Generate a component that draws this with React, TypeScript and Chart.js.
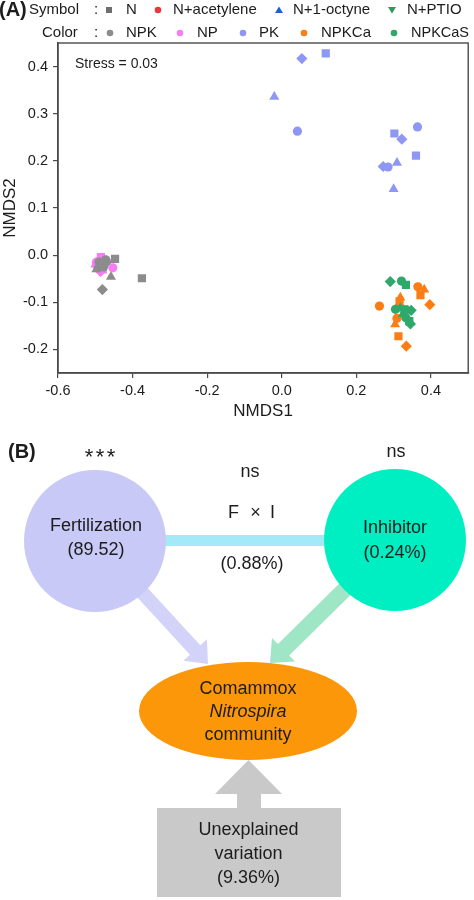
import React, { useEffect, useRef } from "react";
import { Chart, registerables } from "chart.js";

Chart.register(...registerables);

const FONT = 'Arial, "Liberation Sans", Helvetica, sans-serif';
const TEXT = "#1c1c1c";
const AXIS = "#4a4a4a";

// Inhibitor treatments (marker shape) and fertilization regimes (marker colour)
const INHIBITORS = ["N", "N+acetylene", "N+1-octyne", "N+PTIO"];
const INHIBITOR_SHAPES = ["rect", "circle", "triangle", "rectRot"];
const INHIBITOR_RADII = [5.8, 4.6, 5.8, 5.6];
const INHIBITOR_LEGEND_COLORS = ["#6e6e6e", "#e8383d", "#1f5fd6", "#2b9a5a"];
const FERTILIZERS = ["NPK", "NP", "PK", "NPKCa", "NPKCaS"];
const FERTILIZER_COLORS = ["#8c8c8c", "#f57ef2", "#8e97f3", "#fb7d14", "#2ea86b"];

// NMDS scores [NMDS1, NMDS2]; three replicates per inhibitor, in INHIBITORS order
const NPK_SCORES = [
  [[-0.447, -0.008], [-0.375, -0.049], [-0.485, -0.018]],
  [[-0.49, -0.015], [-0.478, -0.025], [-0.472, -0.01]],
  [[-0.458, -0.046], [-0.497, -0.03], [-0.48, -0.02]],
  [[-0.481, -0.073], [-0.49, -0.025], [-0.47, -0.015]],
];
const NP_SCORES = [
  [[-0.485, -0.004], [-0.49, -0.02], [-0.48, -0.03]],
  [[-0.453, -0.027], [-0.497, -0.015], [-0.475, -0.018]],
  [[-0.49, -0.008], [-0.48, -0.013], [-0.5, -0.02]],
  [[-0.486, -0.035], [-0.47, -0.012], [-0.492, -0.027]],
];
const PK_SCORES = [
  [[0.118, 0.428], [0.302, 0.258], [0.36, 0.211]],
  [[0.042, 0.263], [0.364, 0.272], [0.285, 0.187]],
  [[-0.02, 0.336], [0.309, 0.196], [0.3, 0.14]],
  [[0.054, 0.417], [0.322, 0.246], [0.272, 0.188]],
];
const NPKCA_SCORES = [
  [[0.372, -0.085], [0.316, -0.098], [0.313, -0.172]],
  [[0.365, -0.067], [0.262, -0.108], [0.309, -0.134]],
  [[0.382, -0.073], [0.318, -0.09], [0.304, -0.147]],
  [[0.397, -0.105], [0.334, -0.193], [0.315, -0.108]],
];
const NPKCAS_SCORES = [
  [[0.333, -0.063], [0.329, -0.115], [0.342, -0.14]],
  [[0.321, -0.055], [0.305, -0.115], [0.333, -0.133]],
  [[0.318, -0.113], [0.338, -0.118], [0.325, -0.125]],
  [[0.291, -0.056], [0.347, -0.117], [0.345, -0.146]],
];
// drawing order: grey first, pink over it, green below orange
const SCORE_SETS = [NPK_SCORES, NP_SCORES, PK_SCORES, NPKCAS_SCORES, NPKCA_SCORES];
const SCORE_SET_FERTILIZER = [0, 1, 2, 4, 3];

const X_TICKS = [-0.6, -0.4, -0.2, 0.0, 0.2, 0.4];
const Y_TICKS = [-0.2, -0.1, 0.0, 0.1, 0.2, 0.3, 0.4];
const STRESS = 0.03;

// Variation partitioning (panel B)
const FERTILIZATION_PCT = "89.52";
const INHIBITOR_PCT = "0.24%";
const INTERACTION_PCT = "0.88%";
const UNEXPLAINED_PCT = "9.36%";

function font(size: number, weight = "normal", style = "normal") {
  return `${style} ${weight} ${size}px ${FONT}`;
}

function text(ctx: CanvasRenderingContext2D, s: string, x: number, y: number, size: number, align: CanvasTextAlign = "center", weight = "normal", style = "normal") {
  ctx.font = font(size, weight, style);
  ctx.fillStyle = TEXT;
  ctx.textAlign = align;
  ctx.textBaseline = "middle";
  ctx.fillText(s, x, y);
}

function arrow(ctx: CanvasRenderingContext2D, x1: number, y1: number, x2: number, y2: number, shaft: number, headW: number, headL: number, color: string) {
  const len = Math.hypot(x2 - x1, y2 - y1);
  const ux = (x2 - x1) / len;
  const uy = (y2 - y1) / len;
  const nx = -uy;
  const ny = ux;
  const bx = x2 - ux * headL;
  const by = y2 - uy * headL;
  ctx.beginPath();
  ctx.moveTo(x1 + (nx * shaft) / 2, y1 + (ny * shaft) / 2);
  ctx.lineTo(bx + (nx * shaft) / 2, by + (ny * shaft) / 2);
  ctx.lineTo(bx + (nx * headW) / 2, by + (ny * headW) / 2);
  ctx.lineTo(x2, y2);
  ctx.lineTo(bx - (nx * headW) / 2, by - (ny * headW) / 2);
  ctx.lineTo(bx - (nx * shaft) / 2, by - (ny * shaft) / 2);
  ctx.lineTo(x1 - (nx * shaft) / 2, y1 - (ny * shaft) / 2);
  ctx.closePath();
  ctx.fillStyle = color;
  ctx.fill();
}

function legendMarker(ctx: CanvasRenderingContext2D, shape: string, x: number, y: number, color: string) {
  ctx.fillStyle = color;
  ctx.beginPath();
  if (shape === "rect") {
    ctx.rect(x - 3, y - 3, 6, 6);
  } else if (shape === "circle") {
    ctx.arc(x, y, 3.3, 0, Math.PI * 2);
  } else if (shape === "triangle") {
    ctx.moveTo(x, y - 3.6);
    ctx.lineTo(x + 4, y + 3);
    ctx.lineTo(x - 4, y + 3);
  } else {
    ctx.moveTo(x, y + 3.6);
    ctx.lineTo(x + 4, y - 3);
    ctx.lineTo(x - 4, y - 3);
  }
  ctx.closePath();
  ctx.fill();
}

const decorations = {
  id: "figureDecorations",
  afterDraw(chart: Chart) {
    const ctx = chart.ctx;
    const area = chart.chartArea;
    ctx.save();

    // frame around the ordination plot
    ctx.strokeStyle = AXIS;
    ctx.lineWidth = 1.4;
    ctx.strokeRect(area.left, area.top, area.right - area.left, area.bottom - area.top);

    text(ctx, `Stress = ${STRESS.toFixed(2)}`, 75, 64.5, 14, "left");

    // legend: symbols row
    text(ctx, "(A)", -1, 10, 20, "left", "bold");
    text(ctx, "Symbol", 29, 10, 15, "left");
    text(ctx, ":", 96, 10, 15);
    const symX = [109, 158, 279, 392];
    const symTextX = [126, 173, 293, 407];
    const legendShapes = ["rect", "circle", "triangle", "invTriangle"];
    INHIBITORS.forEach((name, i) => {
      legendMarker(ctx, legendShapes[i], symX[i], 10, INHIBITOR_LEGEND_COLORS[i]);
      text(ctx, name, symTextX[i], 10, 15, "left");
    });

    // legend: colours row
    text(ctx, "Color", 42, 33, 15, "left");
    text(ctx, ":", 96, 33, 15);
    const colX = [110, 180, 243, 304, 394];
    const colTextX = [126, 197, 259, 321, 411];
    FERTILIZERS.forEach((name, i) => {
      legendMarker(ctx, "circle", colX[i], 33, FERTILIZER_COLORS[i]);
      text(ctx, name, colTextX[i], 33, i === 4 ? 14.5 : 15, "left");
    });

    // ---- panel B: variation partitioning diagram ----
    text(ctx, "(B)", 8, 452, 20, "left", "bold");
    [89, 100, 111].forEach((x) => text(ctx, "*", x, 458, 22));
    text(ctx, "ns", 396, 452, 18);
    text(ctx, "ns", 250, 472, 18);
    text(ctx, "F", 233.5, 513, 18);
    text(ctx, "×", 255.5, 513, 18);
    text(ctx, "I", 272.5, 513, 18);
    text(ctx, `(${INTERACTION_PCT})`, 252, 564, 18);

    // interaction bar
    ctx.fillStyle = "#a3e9f7";
    ctx.fillRect(150, 535, 190, 11);

    // arrows into the community
    arrow(ctx, 95, 541, 208, 664, 14, 32, 19, "#d3d3fa");
    arrow(ctx, 395, 540, 270, 663, 16, 33, 19, "#9fe6c7");

    // factor circles
    ctx.fillStyle = "#c9c9f7";
    ctx.beginPath();
    ctx.arc(95, 541, 71, 0, Math.PI * 2);
    ctx.fill();
    ctx.fillStyle = "#00efc2";
    ctx.beginPath();
    ctx.arc(395, 540, 71, 0, Math.PI * 2);
    ctx.fill();
    text(ctx, "Fertilization", 96, 526, 18);
    text(ctx, `(${FERTILIZATION_PCT})`, 96, 550, 18);
    text(ctx, "Inhibitor", 395, 528, 18);
    text(ctx, `(${INHIBITOR_PCT})`, 395, 553, 18);

    // unexplained variation arrow and box
    ctx.fillStyle = "#c9c9c9";
    ctx.beginPath();
    ctx.moveTo(248.5, 760);
    ctx.lineTo(282, 794);
    ctx.lineTo(261, 794);
    ctx.lineTo(261, 810);
    ctx.lineTo(237, 810);
    ctx.lineTo(237, 794);
    ctx.lineTo(215, 794);
    ctx.closePath();
    ctx.fill();
    ctx.fillRect(157, 808, 184, 89);
    text(ctx, "Unexplained", 248.5, 830, 18);
    text(ctx, "variation", 248.5, 854, 18);
    text(ctx, `(${UNEXPLAINED_PCT})`, 248.5, 878, 18);

    // community ellipse
    ctx.fillStyle = "#fb9708";
    ctx.beginPath();
    ctx.ellipse(248, 711, 109, 49, 0, 0, Math.PI * 2);
    ctx.fill();
    text(ctx, "Comammox", 248, 689, 18);
    text(ctx, "Nitrospira", 248, 712, 18, "center", "normal", "italic");
    text(ctx, "community", 248, 735, 18);

    ctx.restore();
  },
};

export default function App() {
  const canvasRef = useRef<HTMLCanvasElement | null>(null);

  useEffect(() => {
    document.body.style.margin = "0";
    const canvas = canvasRef.current;
    if (!canvas) return;

    const datasets: any[] = [];
    SCORE_SETS.forEach((groups, s) => {
      const f = SCORE_SET_FERTILIZER[s];
      groups.forEach((reps, i) => {
        datasets.push({
          label: `${FERTILIZERS[f]} ${INHIBITORS[i]}`,
          data: reps.map(([x, y]) => ({ x, y })),
          pointStyle: INHIBITOR_SHAPES[i],
          pointRadius: INHIBITOR_RADII[i],
          backgroundColor: FERTILIZER_COLORS[f],
          borderColor: FERTILIZER_COLORS[f],
          borderWidth: 0,
          showLine: false,
        });
      });
    });

    const tickFont = { family: FONT, size: 14.5 };
    const chart = new Chart(canvas, {
      type: "scatter",
      data: { datasets },
      plugins: [decorations],
      options: {
        responsive: false,
        animation: false,
        devicePixelRatio: 1,
        layout: { padding: { left: 0, top: 43, right: 3, bottom: 467 } },
        plugins: { legend: { display: false }, tooltip: { enabled: false } },
        scales: {
          x: {
            type: "linear",
            min: -0.6,
            max: 0.5,
            afterBuildTicks: (s: any) => {
              s.ticks = X_TICKS.map((v) => ({ value: v }));
            },
            afterFit: (s: any) => {
              s.height = 60;
            },
            grid: { drawOnChartArea: false, drawTicks: true, tickLength: 5, color: AXIS, lineWidth: 1.2 },
            border: { display: true, color: AXIS, width: 1.4 },
            ticks: {
              font: tickFont,
              color: TEXT,
              padding: 4,
              maxRotation: 0,
              autoSkip: false,
              callback: (v: any) => Number(v).toFixed(1),
            },
            title: {
              display: true,
              text: "NMDS1",
              font: { family: FONT, size: 17 },
              color: TEXT,
              padding: { top: 0, bottom: 11 },
            },
          },
          y: {
            type: "linear",
            min: -0.25,
            max: 0.45,
            afterBuildTicks: (s: any) => {
              s.ticks = Y_TICKS.map((v) => ({ value: v }));
            },
            afterFit: (s: any) => {
              s.width = 58;
            },
            grid: { drawOnChartArea: false, drawTicks: true, tickLength: 5, color: AXIS, lineWidth: 1.2 },
            border: { display: true, color: AXIS, width: 1.4 },
            ticks: {
              font: tickFont,
              color: TEXT,
              padding: 5,
              autoSkip: false,
              callback: (v: any) => Number(v).toFixed(1),
            },
            title: {
              display: true,
              text: "NMDS2",
              font: { family: FONT, size: 17 },
              color: TEXT,
              padding: { top: 0, bottom: 0 },
            },
          },
        },
      },
    });

    return () => chart.destroy();
  }, []);

  return <canvas ref={canvasRef} width={474} height={900} style={{ display: "block" }} />;
}
